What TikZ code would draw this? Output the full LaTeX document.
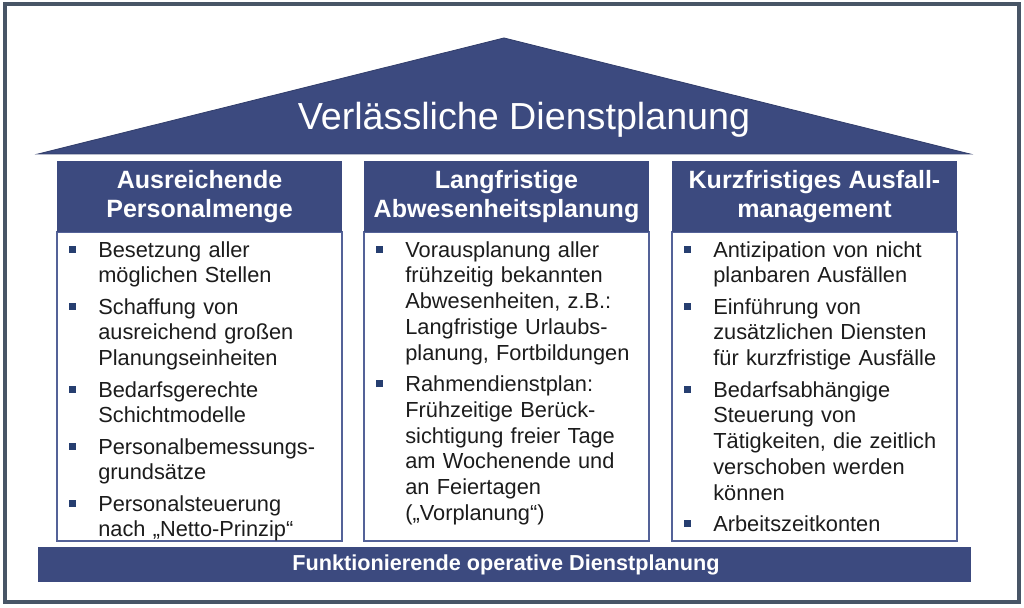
\documentclass[tikz,border=0pt]{standalone}
\usepackage{fontspec}
\setmainfont{Liberation Sans}
\usepackage{xcolor}
\usepackage{enumitem}
\usepackage{tikz}
\usetikzlibrary{positioning,calc}

\definecolor{dachblau}{RGB}{60,74,127}
\definecolor{rahmengrau}{RGB}{72,85,102}
\definecolor{kastenblau}{RGB}{84,98,152}
\definecolor{punktblau}{RGB}{38,62,112}
\definecolor{textgrau}{RGB}{28,28,28}

\setlist[itemize]{label=\textcolor{punktblau}{\rule[3.2pt]{4.8pt}{4.8pt}},
  leftmargin=29.2pt, labelwidth=4.8pt, labelsep=16.2pt, align=left,
  topsep=0pt, partopsep=0pt, parsep=0pt, itemsep=3.9pt}

\tikzset{
  kopf/.style={fill=dachblau, text=white, align=center, inner sep=0pt,
    minimum width=7.125cm, minimum height=1.775cm,
    font=\bfseries\fontsize{17.8}{20.6}\selectfont},
  saeule/.style={draw=kastenblau, line width=1pt, fill=white},
  liste/.style={anchor=north west, inner sep=0pt, text width=7.5cm, align=left,
    text=textgrau, font=\fontsize{15.5}{18.35}\selectfont}
}

\begin{document}
\begin{tikzpicture}
    \useasboundingbox (0,0) rectangle (25.6,15.175);
    % Frame
    \draw [rahmengrau, line width=3pt] (0.125,15.075) rectangle (25.475,0.125);

    % Roof
    \draw [dachblau!85!black, line width=0.6pt, fill=dachblau] (0.95,11.325) -- (12.6,14.225) -- (24.25,11.325) -- cycle;
    \node (titel) at (13.1,12.17) [text=white, font=\fontsize{26.8}{30}\selectfont] {Verlässliche Dienstplanung};

    % Columns
    \draw [saeule] (1.425,9.375) rectangle (8.55,1.65);
    \draw [saeule] (9.1,9.375) rectangle (16.225,1.65);
    \draw [saeule] (16.8,9.375) rectangle (23.925,1.65);
    \node [kopf] (kopf1) at (4.9875,10.2625) {Ausreichende\\Personalmenge};
    \node [kopf] (kopf2) at (12.6625,10.2625) {Langfristige\\Abwesenheitsplanung};
    \node [kopf] (kopf3) at (20.3625,10.2625) {Kurzfristiges Ausfall-\\management};

    \node [liste] (liste1) at (1.425,9.4) {%
      \begin{itemize}
        \item Besetzung aller\\möglichen Stellen
        \item Schaffung von\\ausreichend großen\\Planungseinheiten
        \item Bedarfsgerechte\\Schichtmodelle
        \item Personalbemessungs-\\grundsätze
        \item Personalsteuerung\\nach „Netto-Prinzip“
      \end{itemize}};
    \node [liste] (liste2) at (9.1,9.4) {%
      \begin{itemize}
        \item Vorausplanung aller\\frühzeitig bekannten\\Abwesenheiten, z.B.:\\Langfristige Urlaubs-\\planung, Fortbildungen
        \item Rahmendienstplan:\\Frühzeitige Berück-\\sichtigung freier Tage\\am Wochenende und\\an Feiertagen\\(„Vorplanung“)
      \end{itemize}};
    \node [liste] (liste3) at (16.8,9.4) {%
      \begin{itemize}
        \item Antizipation von nicht\\planbaren Ausfällen
        \item Einführung von\\zusätzlichen Diensten\\für kurzfristige Ausfälle
        \item Bedarfsabhängige\\Steuerung von\\Tätigkeiten, die zeitlich\\verschoben werden\\können
        \item Arbeitszeitkonten
      \end{itemize}};

    % Foundation
    \draw [fill=dachblau, draw=none] (0.95,1.5) rectangle (24.275,0.625);
    \node (fundament) at (12.65,1.06) [text=white, font=\bfseries\fontsize{15.4}{18}\selectfont] {Funktionierende operative Dienstplanung};
\end{tikzpicture}
\end{document}
